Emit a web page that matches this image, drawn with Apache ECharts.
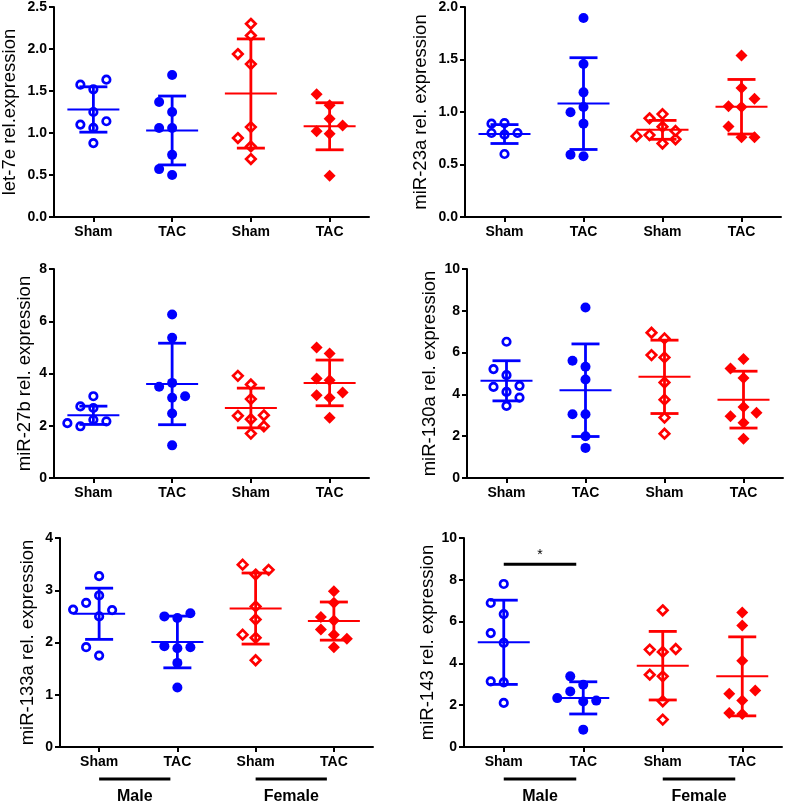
<!DOCTYPE html>
<html><head><meta charset="utf-8">
<script src="https://cdn.jsdelivr.net/npm/echarts/dist/echarts.min.js"></script>
<style>html,body{margin:0;padding:0;background:#fff}#c{width:785px;height:804px}</style>
</head><body><div id="c"></div>
<script>
// ---------------- DATA ----------------
const groupLabels = ['Sham', 'TAC', 'Sham', 'TAC'];
const sexLabels = ['Male', 'Female'];
const panelNames = ['let-7e rel.expression', 'miR-23a rel. expression', 'miR-27b rel. expression',
                    'miR-130a rel. expression', 'miR-133a rel. expression', 'miR-143 rel. expression'];
const yMax  = [2.5, 2, 8, 10, 4, 10];
const yStep = [0.5, 0.5, 2, 2, 1, 2];

// groups: [Male Sham, Male TAC, Female Sham, Female TAC]
const let7e_points = [
  [1.52, 1.25, 1.06, 0.88, 1.575, 1.10, 1.635, 1.14],
  [1.69, 1.25, 1.06, 0.74, 0.50, 1.37, 1.06, 0.57],
  [2.30, 2.16, 1.82, 1.07, 0.84, 0.69, 1.94, 0.94],
  [1.33, 1.17, 0.99, 0.49, 1.46, 1.02, 1.09]
];
const let7e_mean = [1.28, 1.03, 1.47, 1.08];
const let7e_sd   = [0.27, 0.41, 0.65, 0.28];

const mir23a_points = [
  [0.784, 0.60, 0.889, 0.80, 0.80, 0.895],
  [1.895, 1.457, 1.187, 1.048, 0.889, 0.578, 0.997, 0.594],
  [0.86, 0.70, 0.94, 0.78, 0.98, 0.74, 0.77, 0.82],
  [1.537, 1.229, 1.048, 0.759, 1.054, 0.863, 1.127, 0.759]
];
const mir23a_mean = [0.79, 1.08, 0.83, 1.05];
const mir23a_sd   = [0.09, 0.437, 0.09, 0.26];

const mir27b_points = [
  [2.68, 2.23, 1.98, 2.74, 2.17, 3.13, 2.10],
  [6.26, 5.37, 3.64, 3.07, 2.47, 1.25, 3.49, 3.13],
  [3.58, 3.02, 2.25, 1.70, 3.91, 2.38, 2.40, 1.98],
  [4.77, 3.74, 3.07, 2.31, 5.00, 3.17, 3.81, 3.27]
];
const mir27b_mean = [2.40, 3.60, 2.68, 3.64];
const mir27b_sd   = [0.35, 1.56, 0.76, 0.875];

const mir130a_points = [
  [6.52, 4.92, 4.12, 3.45, 4.36, 5.21, 4.41, 3.85],
  [8.16, 5.32, 4.71, 3.05, 1.44, 5.61, 3.05, 2.00],
  [6.68, 5.77, 4.57, 3.75, 2.89, 2.12, 6.95, 5.88],
  [4.79, 3.40, 2.64, 1.88, 5.24, 2.96, 5.69, 3.12]
];
const mir130a_mean = [4.65, 4.20, 4.84, 3.75];
const mir130a_sd   = [0.96, 2.215, 1.755, 1.36];

const mir133a_points = [
  [3.27, 2.90, 2.50, 1.75, 2.76, 2.62, 2.63, 1.91],
  [2.47, 1.89, 1.61, 1.14, 2.50, 1.93, 2.56, 1.91],
  [3.30, 2.69, 2.44, 2.09, 1.66, 3.49, 2.15, 3.39],
  [2.98, 2.42, 2.25, 1.91, 2.49, 2.15, 2.76, 2.07]
];
const mir133a_mean = [2.55, 2.01, 2.65, 2.41];
const mir133a_sd   = [0.49, 0.495, 0.68, 0.365];

const mir143_points = [
  [7.80, 6.36, 4.98, 3.09, 2.11, 6.89, 3.14, 5.45],
  [2.98, 2.18, 0.83, 2.66, 2.22, 3.38, 2.34],
  [6.54, 4.55, 3.38, 2.19, 1.31, 4.66, 4.69, 3.46],
  [6.44, 5.81, 4.13, 2.22, 1.58, 2.55, 2.70, 1.63]
];
const mir143_mean = [5.01, 2.35, 3.89, 3.38];
const mir143_sd   = [2.015, 0.77, 1.64, 1.89];

// significance: panel index, pair of groups, label
const sigPanel = 5;
const sigPair = [0, 1];
const sigLabel = '*';

const allPoints = [let7e_points, mir23a_points, mir27b_points, mir130a_points, mir133a_points, mir143_points];
const allMeans  = [let7e_mean, mir23a_mean, mir27b_mean, mir130a_mean, mir133a_mean, mir143_mean];
const allSds    = [let7e_sd, mir23a_sd, mir27b_sd, mir130a_sd, mir133a_sd, mir143_sd];

// ---------------- STYLE / LAYOUT ----------------
const FONT = '"Liberation Sans", Arial, sans-serif';
const BLUE = '#0000ff', RED = '#ff0000';
const layout = [
  {left: 54,  top: 7,   width: 315, height: 210, nameGap: 35},
  {left: 465, top: 7,   width: 316, height: 210, nameGap: 35},
  {left: 54,  top: 269, width: 315, height: 209, nameGap: 20},
  {left: 467, top: 269, width: 316, height: 209, nameGap: 28},
  {left: 60,  top: 538, width: 313, height: 209, nameGap: 23},
  {left: 464, top: 538, width: 318, height: 209, nameGap: 27}
];
const STEP_PX = 13;       // horizontal spacing between swarm columns
const COLLIDE_PX = 11.2;  // vertical distance below which points collide
const OVERLAP_OK_PX = 8;  // allowed partial overlap before opening outer columns

function swarmColumns(values, pxPerUnit) {
  const placed = [];
  const cands = [0, -1, 1, -2, 2, -3, 3];
  const gap = (v, c) => placed.filter(p => p.col === c)
      .reduce((m, p) => Math.min(m, Math.abs(p.v - v) * pxPerUnit), Infinity);
  return values.map(v => {
    let col = cands.find(c => gap(v, c) >= COLLIDE_PX);
    const inner = [0, -1, 1];
    if (col !== 0 && col !== -1 && col !== 1) {
      const best = inner.reduce((b, c) => gap(v, c) > gap(v, b) ? c : b, 0);
      if (gap(v, best) >= OVERLAP_OK_PX) col = best;
    }
    if (col === undefined) col = 0;
    placed.push({v, col});
    return col;
  });
}

const grids = [], xAxes = [], yAxes = [], series = [];
layout.forEach((L, i) => {
  grids.push({left: L.left, top: L.top, width: L.width, height: L.height, containLabel: false, outerBoundsMode: 'none'});
  const axisLine = {show: true, lineStyle: {color: '#000', width: 2}};
  xAxes.push({
    type: 'category', gridIndex: i, data: groupLabels, boundaryGap: true,
    axisLine, axisTick: {show: true, alignWithLabel: true, length: 5, lineStyle: {color: '#000', width: 2}},
    axisLabel: {interval: 0, color: '#000', fontWeight: 'bold', fontSize: 14, fontFamily: FONT, margin: 8},
    splitLine: {show: false}
  });
  xAxes.push({type: 'value', gridIndex: i, min: 0, max: 4, show: false});
  const dec = yStep[i] < 1 ? 1 : 0;
  yAxes.push({
    type: 'value', gridIndex: i, min: 0, max: yMax[i], interval: yStep[i],
    name: panelNames[i], nameLocation: 'middle', nameGap: L.nameGap, nameMoveOverlap: false,
    nameTextStyle: {color: '#000', fontSize: 18.5, fontFamily: FONT},
    axisLine, axisTick: {show: true, length: 5, lineStyle: {color: '#000', width: 2}},
    axisLabel: {color: '#000', fontWeight: 'bold', fontSize: 14, fontFamily: FONT, margin: 7,
                formatter: v => v.toFixed(dec)},
    splitLine: {show: false}
  });

  const pxPerUnit = L.height / yMax[i];
  const catPx = L.width / 4;
  allPoints[i].forEach((vals, g) => {
    const cols = swarmColumns(vals, pxPerUnit);
    const male = g < 2, sham = g % 2 === 0;
    const color = male ? BLUE : RED;
    series.push({
      type: 'scatter', xAxisIndex: 2 * i + 1, yAxisIndex: i, z: 2,
      data: vals.map((v, k) => [g + 0.5 + cols[k] * STEP_PX / catPx, v]),
      symbol: male ? 'circle' : 'diamond',
      symbolSize: sham ? (male ? 7.5 : 9.5) : (male ? 10 : 12),
      itemStyle: sham ? {color: '#fff', borderColor: color, borderWidth: 2.7, opacity: 1}
                      : {color: color, opacity: 1},
      emphasis: {disabled: true}, silent: true
    });
  });

  series.push({
    type: 'custom', xAxisIndex: 2 * i + 1, yAxisIndex: i, z: 5, silent: true,
    data: allMeans[i].map((m, g) => [g, m, allSds[i][g]]),
    renderItem: (params, api) => {
      const g = api.value(0), m = api.value(1), s = api.value(2);
      const color = g < 2 ? BLUE : RED;
      const c = api.coord([g + 0.5, m]);
      const t = api.coord([g + 0.5, m + s]);
      const b = api.coord([g + 0.5, m - s]);
      const st = w => ({stroke: color, lineWidth: w});
      return {type: 'group', children: [
        {type: 'line', shape: {x1: c[0], y1: t[1], x2: c[0], y2: b[1]}, style: st(2.8)},
        {type: 'line', shape: {x1: c[0] - 14, y1: t[1], x2: c[0] + 14, y2: t[1]}, style: st(2.8)},
        {type: 'line', shape: {x1: c[0] - 14, y1: b[1], x2: c[0] + 14, y2: b[1]}, style: st(2.8)},
        {type: 'line', shape: {x1: c[0] - 26, y1: c[1], x2: c[0] + 26, y2: c[1]}, style: st(2)}
      ]};
    }
  });

  // sex group bars below the bottom-row panels
  if (i >= 4) {
    series.push({
      type: 'custom', xAxisIndex: 2 * i + 1, yAxisIndex: i, clip: false, silent: true,
      data: sexLabels.map((s, k) => [2 * k, 2 * k + 1, k]),
      renderItem: (params, api) => {
        const a = api.coord([api.value(0) + 0.5, 0]);
        const b = api.coord([api.value(1) + 0.5, 0]);
        const x1 = a[0], x2 = b[0] - 7, y = a[1] + 32;
        return {type: 'group', children: [
          {type: 'line', shape: {x1, y1: y, x2, y2: y}, style: {stroke: '#000', lineWidth: 3}},
          {type: 'text', x: (x1 + x2) / 2, y: a[1] + 50,
           style: {text: sexLabels[api.value(2)], fill: '#000', font: 'bold 16px ' + FONT,
                   textAlign: 'center', textVerticalAlign: 'middle'}}
        ]};
      }
    });
  }

  if (i === sigPanel) {
    series.push({
      type: 'custom', xAxisIndex: 2 * i + 1, yAxisIndex: i, clip: false, silent: true,
      data: [[sigPair[0], sigPair[1], yMax[i] * 0.875]],
      renderItem: (params, api) => {
        const a = api.coord([api.value(0) + 0.5, api.value(2)]);
        const b = api.coord([api.value(1) + 0.5, api.value(2)]);
        const x1 = a[0], x2 = b[0] - 7;
        return {type: 'group', children: [
          {type: 'line', shape: {x1, y1: a[1], x2, y2: a[1]}, style: {stroke: '#000', lineWidth: 3}},
          {type: 'text', x: (x1 + x2) / 2, y: a[1] - 9,
           style: {text: sigLabel, fill: '#000', font: '14px ' + FONT, textAlign: 'center', textVerticalAlign: 'middle'}}
        ]};
      }
    });
  }
});

const chart = echarts.init(document.getElementById('c'), null, {renderer: 'canvas'});
chart.setOption({
  animation: false, backgroundColor: '#fff',
  grid: grids, xAxis: xAxes, yAxis: yAxes, series
});
</script></body></html>
